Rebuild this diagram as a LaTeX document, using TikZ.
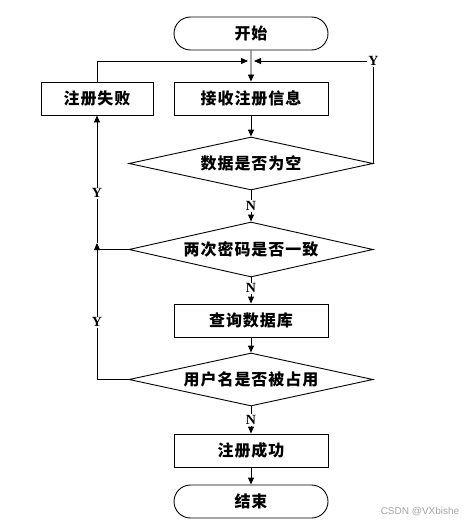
\documentclass[tikz,border=0pt]{standalone}
\usepackage{fontspec}
\setmainfont{Liberation Serif}
\newfontfamily\cjk{Noto Sans CJK SC}[LetterSpace=6]
\newfontfamily\wm{Liberation Sans}
\usetikzlibrary{shapes.geometric,shapes.misc,arrows.meta}
\begin{document}
\begin{tikzpicture}[x=1pt,y=-1pt,
  base/.style={draw,line width=0.9pt,inner sep=0pt,font=\cjk\bfseries\fontsize{16}{16}\selectfont},
  term/.style={base,rounded rectangle,minimum width=154pt,minimum height=33pt},
  proc/.style={base,rectangle,minimum width=154pt,minimum height=33pt},
  dec/.style={base,diamond,aspect=4.6,minimum width=244pt,minimum height=53pt},
  arr/.style={line width=0.9pt,-{Triangle[length=7pt,width=6pt]}},
  ln/.style={line width=0.9pt},
  lab/.style={fill=white,inner sep=1pt,font=\bfseries\fontsize{14}{14}\selectfont}]
\useasboundingbox (0,0) rectangle (474,524);
\node[term] (start) at (251,33.5) {开始};
\node[proc] (recv) at (251,98.5) {接收注册信息};
\node[proc,minimum width=112pt] (fail) at (97,98.5) {注册失败};
\node[dec] (d1) at (251,163.5) {数据是否为空};
\node[dec,aspect=4.44,minimum height=55pt] (d2) at (251,249.5) {两次密码是否一致};
\node[proc] (query) at (251,320.5) {查询数据库};
\node[dec] (d3) at (251,379.5) {用户名是否被占用};
\node[proc] (succ) at (251,450.5) {注册成功};
\node[term] (end) at (251,501.5) {结束};
\node[font=\wm\fontsize{10}{10}\selectfont,text=gray!70] (wmk) at (420,512) {CSDN @VXbishe};
\coordinate (jl) at (248,61);
\coordinate (jr) at (254,61);
\coordinate (am) at (97,243);
\coordinate (lc) at (97,249.5);
\draw[arr] (start) -- (recv);
\draw[arr] (fail.north) |- (jl);
\draw[arr] (d1.east) |- node[pos=0.5,lab,fill=white] {Y} (jr);
\draw[arr] (recv) -- (d1);
\draw[arr] (d1) -- node[lab] {N} (d2);
\draw[arr] (d2) -- node[lab,pos=0.42] {N} (query);
\draw[arr] (query) -- (d3);
\draw[arr] (d3) -- node[lab] {N} (succ);
\draw[arr] (succ) -- (end);
\draw[arr] (d2.west) -| (am);
\draw[arr] (am) -- node[lab,pos=0.39] {Y} (fail.south);
\draw[ln] (d3.west) -| node[lab,pos=0.72] {Y} (lc);
\end{tikzpicture}
\end{document}
